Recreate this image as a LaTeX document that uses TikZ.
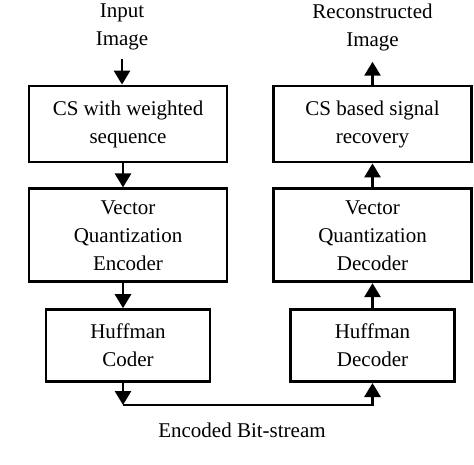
\documentclass[tikz,border=0pt]{standalone}
\usepackage{fontspec}
\setmainfont{Liberation Serif}
\usepackage{tikz}
\usetikzlibrary{positioning, arrows.meta}

\begin{document}
\begin{tikzpicture}[
        x=1pt, y=1pt,
        node distance=24pt and 24pt,
        every node/.style={font=\fontsize{21pt}{28pt}\selectfont},
        box/.style={draw, rectangle, minimum width=198pt, minimum height=76pt, align=center, line width=2.8pt},
        tallbox/.style={box, minimum height=93pt},
        smallbox/.style={box, minimum width=164pt, minimum height=72pt},
        lbl/.style={align=center, inner sep=0pt},
        arr/.style={-{Triangle[width=16pt,length=14pt]}, line width=2.8pt}
    ]
    \useasboundingbox (0,0) rectangle (474,-465);

    % Encoder side
    \node[lbl] (in) at (122,-27) {Input\\Image};
    \node[box] (cs) at (128,-124) {CS with weighted\\sequence};
    \node[tallbox] (vqe) [below=of cs] {Vector\\Quantization\\Encoder};
    \node[smallbox] (hc) [below=25pt of vqe] {Huffman\\Coder};

    % Decoder side
    \node[lbl] (out) at (372.5,-27) {Reconstructed\\Image};
    \node[box] (rec) at (372.5,-124) {CS based signal\\recovery};
    \node[tallbox] (vqd) [below=of rec] {Vector\\Quantization\\Decoder};
    \node[smallbox] (hd) [below=25pt of vqd] {Huffman\\Decoder};

    \node[lbl] (bits) at (242,-430) {Encoded Bit-stream};

    % Connecting arrows
    \draw[arr] ([yshift=-9pt]in.south) -- (in.south |- cs.north);
    \draw[arr] ([xshift=-5pt]cs.south) -- ([xshift=-5pt]vqe.north);
    \draw[arr] ([xshift=-5pt]vqe.south) -- ([xshift=-5pt]hc.north);
    \draw[arr] (hd) -- (vqd);
    \draw[arr] (vqd) -- (rec);
    \draw[arr] (rec.north) -- ([yshift=-11pt]out.south);

    % Bit-stream link
    \coordinate (bl) at ([xshift=-5pt,yshift=-22pt]hc.south);
    \draw[arr] ([xshift=-5pt]hc.south) -- (bl);
    \draw[arr] (bl) -| (hd.south);

\end{tikzpicture}
\end{document}
